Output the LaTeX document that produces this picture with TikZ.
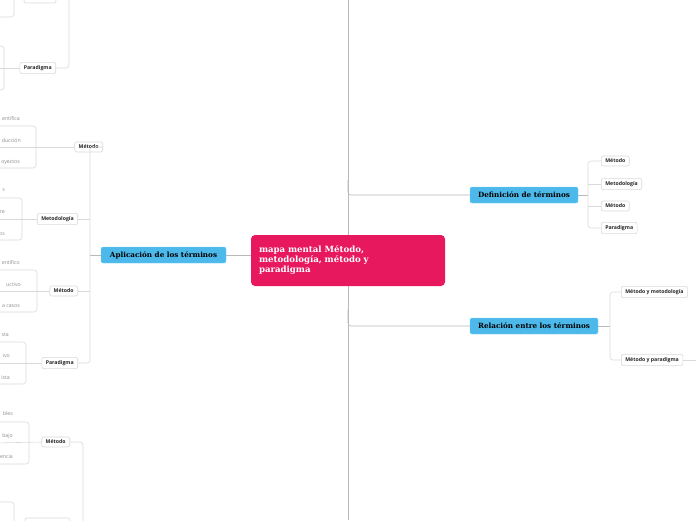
\documentclass[tikz,border=0pt]{standalone}
\usepackage{fontspec}
\setmainfont{Open Sans}
\newfontfamily\slab{DejaVu Serif}
\begin{document}
\begin{tikzpicture}[x=1pt,y=-1pt,
  con/.style={draw=gray!55,line width=0.6pt,rounded corners=3pt},
  sub/.style={draw=gray!30,fill=white,rounded corners=2pt,line width=0.6pt,font=\fontsize{5.2}{6}\selectfont\bfseries,inner xsep=4pt,inner ysep=3pt,text=black!85},
  br/.style={draw=gray!30,line width=0.6pt,rounded corners=3pt},
  frag/.style={font=\fontsize{5.2}{6}\selectfont,text=gray!90,inner sep=0pt,anchor=east},
  top/.style={draw=blue!30!cyan!60,fill={rgb,255:red,77;green,184;blue,234},rounded corners=2pt,font=\slab\fontsize{7.2}{8}\selectfont\bfseries,inner xsep=2pt,inner ysep=3.5pt,minimum height=16pt}]
\useasboundingbox (0,0) rectangle (696,520);
\clip (0,0) rectangle (696,520);
% spine
\draw[con] (348,0) -- (348,520);
% central
\node[fill={rgb,255:red,232;green,24;blue,94},rounded corners=4pt,minimum width=194pt,minimum height=51pt,text width=178pt,text=white,font=\slab\fontsize{8.6}{10}\selectfont\bfseries,align=left,inner xsep=8pt] (c) at (348,260.5) {\parbox{128pt}{\raggedright mapa mental Método, metodología, método y paradigma}};
% right branches
\node[top,minimum width=108pt] (def) at (524,195) {Definición de términos};
\node[top,minimum width=128pt] (rel) at (534,326) {Relación entre los términos};
\draw[con] (348,180) -- (348,195) -- (def.west);
\draw[con] (348,310) -- (348,326) -- (rel.west);
\node[sub,anchor=west] (d1) at (601,161) {Método};
\node[sub,anchor=west] (d2) at (601,184) {Metodología};
\node[sub,anchor=west] (d3) at (601,206) {Método};
\node[sub,anchor=west] (d4) at (601,228) {Paradigma};
\draw[con] (def.east) -- (588,195);
\foreach \n in {d1,d4} \draw[br] (588,195) |- (\n.west);
\draw[br] (588,184) -- (d2.west);
\draw[br] (588,206) -- (d3.west);
\node[sub,anchor=west] (r1) at (621,292) {Método y metodología};
\node[sub,anchor=west] (r2) at (621,360) {Método y paradigma};
\draw[con] (rel.east) -- (610,326);
\draw[br] (610,326) |- (r1.west);
\draw[br] (610,326) |- (r2.west);
\draw[br] (r2.east) -- (700,360);
% left branch
\node[top,minimum width=125pt] (apl) at (163.5,255) {Aplicación de los términos};
\draw[con] (apl.east) -- (apl.east-|c.west);
\node[sub,anchor=east] (m1) at (103,147) {Método};
\node[sub,anchor=east] (m2) at (78,219) {Metodología};
\node[sub,anchor=east] (m3) at (78,291) {Método};
\node[sub,anchor=east] (m4) at (78,363) {Paradigma};
\draw[con] (apl.west) -- (90,255);
\foreach \n in {m1,m4} \draw[br] (90,255) |- (\n.east);
\draw[br] (90,219) -- (m2.east);
\draw[br] (90,291) -- (m3.east);
% groups
\newcommand\grp[4]{% right x, top y, bottom y, node
  \draw[br] (-5,#2) -- (#1,#2) -- (#1,#3) -- (-5,#3);
  \draw[br] (-5,{(#2+#3)/2}) -- (#4.west);}
\grp{36}{126}{168}{m1}
\node[frag] at (20,119) {entífica};
\node[frag] at (21,141) {ducción};
\node[frag] at (20,162) {oyectos};
\grp{22}{198}{240}{m2}
\node[frag] at (5,190) {s};
\node[frag] at (5,212) {re};
\node[frag] at (5,234) {os};
\grp{37}{270}{312}{m3}
\node[frag] at (20,263) {entífico};
\node[frag] at (21,285) {uctivo};
\node[frag] at (20,306) {a casos};
\grp{26}{342}{384}{m4}
\node[frag] at (9,335) {sta};
\node[frag] at (10,356) {ivo};
\node[frag] at (10,378) {ista};
% lower
\node[sub,anchor=east] (m5) at (70,442) {Método};
\grp{29}{422}{464}{m5}
\node[frag] at (13,414) {bles};
\node[frag] at (13,436) {bajo};
\node[frag] at (13,457) {encia};
\draw[br] (m5.east) -- (83,442) -- (83,525);
\node[sub,minimum width=45pt,minimum height=12pt] (m6) at (47.5,524) {};
\draw[br] (-5,502) -- (14,502) -- (14,525);
% upper
\node[sub,anchor=east] (p0) at (56,68) {Paradigma};
\draw[br] (p0.east) -- (69,68) -- (69,-5);
\draw[br] (-5,46) -- (4,46) -- (4,90) -- (-5,90);
\draw[br] (-5,68) -- (p0.west);
\draw[br] (-5,17) -- (14,17) -- (14,-5);
\node[sub,minimum width=32pt,minimum height=12pt] (p1) at (40,-3) {};
\end{tikzpicture}
\end{document}
